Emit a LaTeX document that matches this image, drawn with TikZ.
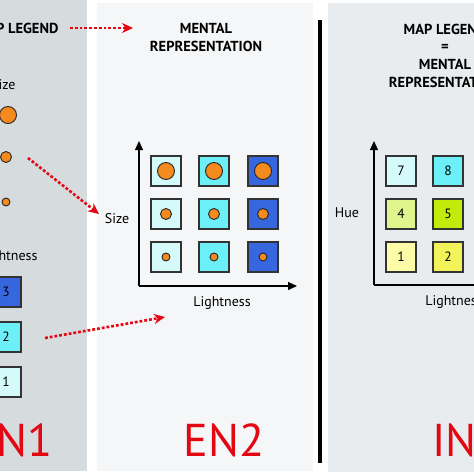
\documentclass[tikz,border=0pt]{standalone}
\usepackage{fontspec}
\setsansfont{PT Sans}
\usetikzlibrary{arrows.meta, positioning}
\definecolor{panelgrey}{HTML}{D6DBDE}
\definecolor{panellight}{HTML}{F5F6F7}
\definecolor{panelblue}{HTML}{E9ECEF}
\definecolor{palecyan}{HTML}{D4FAFA}
\definecolor{midcyan}{HTML}{6CEFF7}
\definecolor{deepblue}{HTML}{3767DE}
\definecolor{paleyellow}{HTML}{FCFCA8}
\definecolor{midyellow}{HTML}{F2F25A}
\definecolor{palelime}{HTML}{E2F48E}
\definecolor{midlime}{HTML}{C2EA0A}
\definecolor{dotorange}{HTML}{F58A1F}
\definecolor{signred}{HTML}{E30613}
\tikzset{
  cell/.style = {draw=black!80, line width=1.1pt, minimum size=30pt, inner sep=0pt, font=\sffamily\fontsize{13.5}{13.5}\selectfont},
  blob/.style = {circle, draw=black!85, line width=0.9pt, fill=dotorange, inner sep=0pt, minimum size=#1},
  heading/.style = {font=\sffamily\bfseries\fontsize{14.5}{18}\selectfont, align=center},
  axislabel/.style = {font=\sffamily\fontsize{14}{14}\selectfont},
  bigred/.style = {text=signred, font=\sffamily\fontsize{46}{46}\selectfont, inner sep=0pt},
  hint/.style = {signred, line width=2.6pt, dash pattern=on 2.8pt off 2pt, -{Stealth[length=11pt, width=10pt]}},
  axisline/.style = {line width=1.3pt, -{Triangle[length=9pt, width=8pt]}}
}

\begin{document}
\begin{tikzpicture}[x=1pt, y=-1pt]
  \useasboundingbox (0,0) rectangle (474,474);
  \clip (0,0) rectangle (474,474);

  % panels
  \fill[panelgrey] (0,0) rectangle (87,471);
  \fill[panellight] (97,3) rectangle (313,471);
  \fill[panelblue] (328,3) rectangle (474,472);
  \draw[line width=4pt] (320,20) -- (320,463);

  % map legend
  \node[heading, anchor=east] (legtitle) at (62,28) {MAP LEGEND};
  \node[axislabel, anchor=east] (legsize) at (19,85) {Size};
  \node[blob=17pt] (legbig) at (8,115) {};
  \node[blob=11pt] (legmid) at (6,157) {};
  \node[blob=8pt] (legsmall) at (6,202) {};
  \node[axislabel, anchor=east] (leglight) at (41,257) {Lightness};
  \node[cell, fill=deepblue] (leg3) at (6,292) {3};
  \node[cell, fill=midcyan] (leg2) at (6,337) {2};
  \node[cell, fill=palecyan] (leg1) at (6,382) {1};
  \node[bigred, anchor=east] (en1) at (53,440) {EN1};

  % mental representation
  \node[heading] (mental) at (206,37) {MENTAL\\REPRESENTATION};
  \coordinate (orig2) at (139,286);
  \coordinate (ytip2) at (139,141);
  \coordinate (xtip2) at (297,286);
  \draw[axisline] (orig2) -- (ytip2);
  \draw[axisline] (orig2) -- (xtip2);
  \foreach \x/\col [count=\i] in {166/palecyan, 214/midcyan, 263/deepblue}
    \foreach \y/\d [count=\j] in {171/17pt, 214/11pt, 257/8pt} {
      \node[cell, fill=\col] (c\i\j) at (\x,\y) {};
      \node[blob=\d] (d\i\j) at (c\i\j) {};
    }
  \node[axislabel] (size2) at (117,219) {Size};
  \node[axislabel] (light2) at (222,303) {Lightness};
  \node[bigred] (en2) at (224,440) {EN2};

  % legend = mental representation
  \node[heading, font=\sffamily\bfseries\fontsize{14.5}{17.7}\selectfont] (equal) at (445,55.5) {MAP LEGEND\\=\\MENTAL\\REPRESENTATION};
  \coordinate (orig3) at (374,285);
  \coordinate (ytip3) at (374,141);
  \coordinate (xtip3) at (532,285);
  \draw[axisline] (orig3) -- (ytip3);
  \draw[axisline] (orig3) -- (xtip3);
  \node[cell, fill=palecyan] (h7) at (401,171) {7};
  \node[cell, fill=midcyan] (h8) at (448,171) {8};
  \node[cell, fill=palelime] (h4) at (401,214) {4};
  \node[cell, fill=midlime] (h5) at (448,214) {5};
  \node[cell, fill=paleyellow] (h1) at (401,257) {1};
  \node[cell, fill=midyellow] (h2) at (448,257) {2};
  \node[axislabel] (hue3) at (347,213) {Hue};
  \node[axislabel] (light3) at (454,302) {Lightness};
  \node[bigred, anchor=west] (in3) at (432,440) {IN};

  % red hints
  \coordinate (mentalin) at (133,28);
  \coordinate (sizeout) at (28,158);
  \coordinate (sizein) at (99,214);
  \coordinate (lightout) at (45,338);
  \coordinate (lightin) at (165,317);
  \draw[hint, shorten <=8pt] (legtitle.east) -- (mentalin);
  \draw[hint] (sizeout) -- (sizein);
  \draw[hint] (lightout) -- (lightin);
\end{tikzpicture}
\end{document}
